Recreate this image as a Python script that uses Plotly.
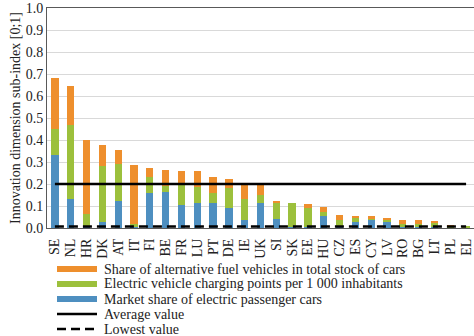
import plotly.graph_objects as go

countries = ["SE", "NL", "HR", "DK", "AT", "IT", "FI", "BE", "FR", "LU", "PT", "DE", "IE", "UK",
             "SI", "SK", "EE", "HU", "CZ", "ES", "CY", "LV", "RO", "BG", "LT", "PL", "EL"]
market_share = [0.331, 0.134, 0.005, 0.027, 0.124, 0.003, 0.157, 0.164, 0.104, 0.112, 0.115, 0.092, 0.037, 0.112,
                0.040, 0.005, 0.003, 0.055, 0.008, 0.027, 0.037, 0.028, 0.005, 0.004, 0.003, 0.004, 0.004]
charging_points = [0.119, 0.336, 0.059, 0.256, 0.166, 0.016, 0.077, 0.028, 0.095, 0.074, 0.042, 0.090, 0.094, 0.037,
                   0.076, 0.107, 0.086, 0.019, 0.029, 0.018, 0.005, 0.007, 0.012, 0.014, 0.022, 0.004, 0.003]
alt_fuel_share = [0.231, 0.176, 0.336, 0.094, 0.063, 0.267, 0.037, 0.072, 0.061, 0.075, 0.074, 0.039, 0.063, 0.045,
                  0.006, 0.000, 0.020, 0.020, 0.023, 0.010, 0.012, 0.010, 0.020, 0.018, 0.003, 0.002, 0.000]
average_value = 0.20
lowest_value = 0.007
y_ticks = [0.0, 0.1, 0.2, 0.3, 0.4, 0.5, 0.6, 0.7, 0.8, 0.9, 1.0]

names = ["Share of alternative fuel vehicles in total stock of cars",
         "Electric vehicle charging points per 1 000 inhabitants",
         "Market share of electric passenger cars",
         "Average value",
         "Lowest value"]

BLUE = "#4E8FC0"
GREEN = "#9CC03C"
ORANGE = "#EE8F2D"
FONT = "Liberation Serif"
TXT = "#222222"
DASH = "9px,5px"

W, H = 474, 336
ML, MR, MT, MB = 47, 0, 8, 108
PW, PH = W - ML - MR, H - MT - MB

fig = go.Figure()
for vals, col, nm in [(market_share, BLUE, names[2]), (charging_points, GREEN, names[1]),
                      (alt_fuel_share, ORANGE, names[0])]:
    fig.add_trace(go.Bar(x=countries, y=vals, name=nm, marker=dict(color=col, line=dict(width=0)),
                         showlegend=False))

fig.add_trace(go.Scatter(x=countries, y=[average_value] * len(countries), mode="lines", name=names[3],
                         line=dict(color="black", width=2.6), showlegend=False))
fig.add_trace(go.Scatter(x=countries, y=[lowest_value] * len(countries), mode="lines", name=names[4],
                         line=dict(color="black", width=2.6, dash=DASH), showlegend=False))

# manual legend (wide swatches, tight rows as in the reference)
legend_items = [(names[0], ORANGE, 6, "solid"), (names[1], GREEN, 6, "solid"), (names[2], BLUE, 6, "solid"),
                (names[3], "black", 2.6, "solid"), (names[4], "black", 2.6, DASH)]
row0_px, row_step_px = 269, 15.0
sw_x0_px, sw_x1_px, txt_x_px = 57, 97, 102
shapes, annotations = [], []
for i, (nm, col, lw, dash) in enumerate(legend_items):
    yp = (H - MB - (row0_px + i * row_step_px)) / PH
    shapes.append(dict(type="line", xref="paper", yref="paper",
                       x0=(sw_x0_px - ML) / PW, x1=(sw_x1_px - ML) / PW, y0=yp, y1=yp,
                       line=dict(color=col, width=lw, dash=dash)))
    annotations.append(dict(xref="paper", yref="paper", x=(txt_x_px - ML) / PW, y=yp,
                            xanchor="left", yanchor="middle", showarrow=False, text=nm,
                            font=dict(family=FONT, size=14, color=TXT)))

fig.update_layout(
    width=W, height=H,
    margin=dict(l=ML, r=MR, t=MT, b=MB),
    barmode="stack", bargap=0.54,
    plot_bgcolor="white", paper_bgcolor="white",
    font=dict(family=FONT, size=13, color=TXT),
    showlegend=False,
    shapes=shapes, annotations=annotations,
)
fig.update_xaxes(type="category", tickmode="linear", dtick=1, tickangle=-90, showgrid=False, showline=True,
                 linecolor="#595959", linewidth=1, mirror=True, ticks="", automargin=False,
                 ticklabelstandoff=4,
                 tickfont=dict(family=FONT, size=14, color=TXT))
fig.update_yaxes(range=[0, 1.0005], tickvals=y_ticks, ticktext=[f"{v:.1f}" for v in y_ticks],
                 showgrid=True, gridcolor="#D9D9D9", automargin=False, ticklabeloverflow="allow",
                 gridwidth=1, showline=True, linecolor="#595959", linewidth=1, mirror=True, ticks="",
                 zeroline=False, tickfont=dict(family=FONT, size=14, color=TXT),
                 title=dict(text="Innovation dimension sub-index [0;1]", font=dict(family=FONT, size=14, color=TXT),
                            standoff=1))

fig.write_html("out.html")
